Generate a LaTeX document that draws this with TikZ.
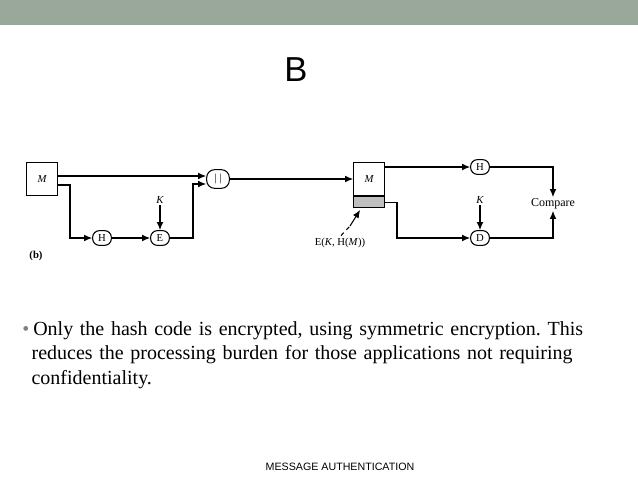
\documentclass[tikz,border=0pt]{standalone}
\usepackage{fontspec}
\setmainfont{Liberation Serif}
\newfontfamily\sans{Liberation Sans}
\usetikzlibrary{arrows.meta,calc}
\begin{document}
\frenchspacing
\begin{tikzpicture}[x=0.75pt,y=0.75pt,
  box/.style={draw,thick,minimum width=23pt,minimum height=25pt,inner sep=0pt,font=\footnotesize\itshape},
  op/.style={draw,thick,rounded corners=5pt,minimum width=14pt,minimum height=11pt,inner sep=0pt,font=\footnotesize},
  lab/.style={font=\footnotesize,inner sep=1pt},
  ar/.style={thick,-{Latex[length=6pt,width=5pt]}},
  ln/.style={thick}]
\useasboundingbox (0,0) rectangle (638,-478);
\fill[fill={rgb,255:red,154;green,168;blue,156}] (0,0) rectangle (638,-25);
\node[font=\sans\fontsize{26}{30}\selectfont] (title) at (296,-70) {B};
% left side
\node[box] (m1) at (42,-179) {M};
\node[op,rounded corners=6pt,minimum width=17pt,minimum height=14pt] (cc) at (218,-179) {| |};
\node[op] (h1) at (102,-238) {H};
\node[op] (e1) at (160,-238) {E};
\node[lab,font=\footnotesize\itshape] (k1) at (160,-200) {K};
\node[lab,font=\footnotesize\bfseries] (b) at (36,-256) {(b)};
\coordinate (ma) at ($(m1.east)+(0,3)$);
\coordinate (mb) at ($(m1.east)+(0,-6)$);
\draw[ar] (ma) -- (ma -| cc.west);
\draw[ar] (mb) -| (70,-238) -- (h1.west);
\draw[ar] (h1) -- (e1);
\draw[ar] (k1) -- (e1);
\coordinate (cb) at ($(cc.west)+(0,-5)$);
\draw[ar] (e1.east) -| (193,-184) -- (cb);
% right side
\node[box] (m2) at (369,-179) {M};
\node[draw,thick,fill=gray!50,minimum width=23pt,minimum height=8pt,inner sep=0pt,anchor=north] (s) at (m2.south) {};
\draw[ar] (cc) -- (m2);
\node[op] (h2) at (480,-167) {H};
\node[op] (d2) at (480,-238) {D};
\node[lab,font=\footnotesize\itshape] (k2) at (480,-200) {K};
\node[lab,font=\small] (cmp) at (553,-204) {Compare};
\node[lab] (ek) at (340,-243) {E(\textit{K}, H(\textit{M}))};
\coordinate (dl) at (350,-226);
\coordinate (st) at ($(s.south west)+(7,-2)$);
\draw[ar] (m2.east |- h2) -- (h2);
\draw[ar] (h2.east) -| (cmp.north);
\draw[ar] (s.east) -| (397,-238) -- (d2.west);
\draw[ar] (k2) -- (d2);
\draw[ar] (d2.east) -| (cmp.south);
\draw[thick,dashed] ($(ek.north)+(1,1)$) -- (dl);
\draw[ar] (dl) -- (st);
% text
\node[anchor=north west,text width=460pt,align=left,font=\fontsize{15}{18.5}\selectfont,inner sep=0pt] (txt) at (22,-321)
 {\textcolor{gray}{\textbullet}\hspace{3pt}Only the hash code is encrypted, using symmetric encryption. This\\
 \hspace{7pt}reduces the processing burden for those applications not requiring\\
 \hspace{7pt}confidentiality.};
\node[font=\sans\fontsize{8}{10}\selectfont] (foot) at (340,-467) {MESSAGE AUTHENTICATION};
\end{tikzpicture}
\end{document}
